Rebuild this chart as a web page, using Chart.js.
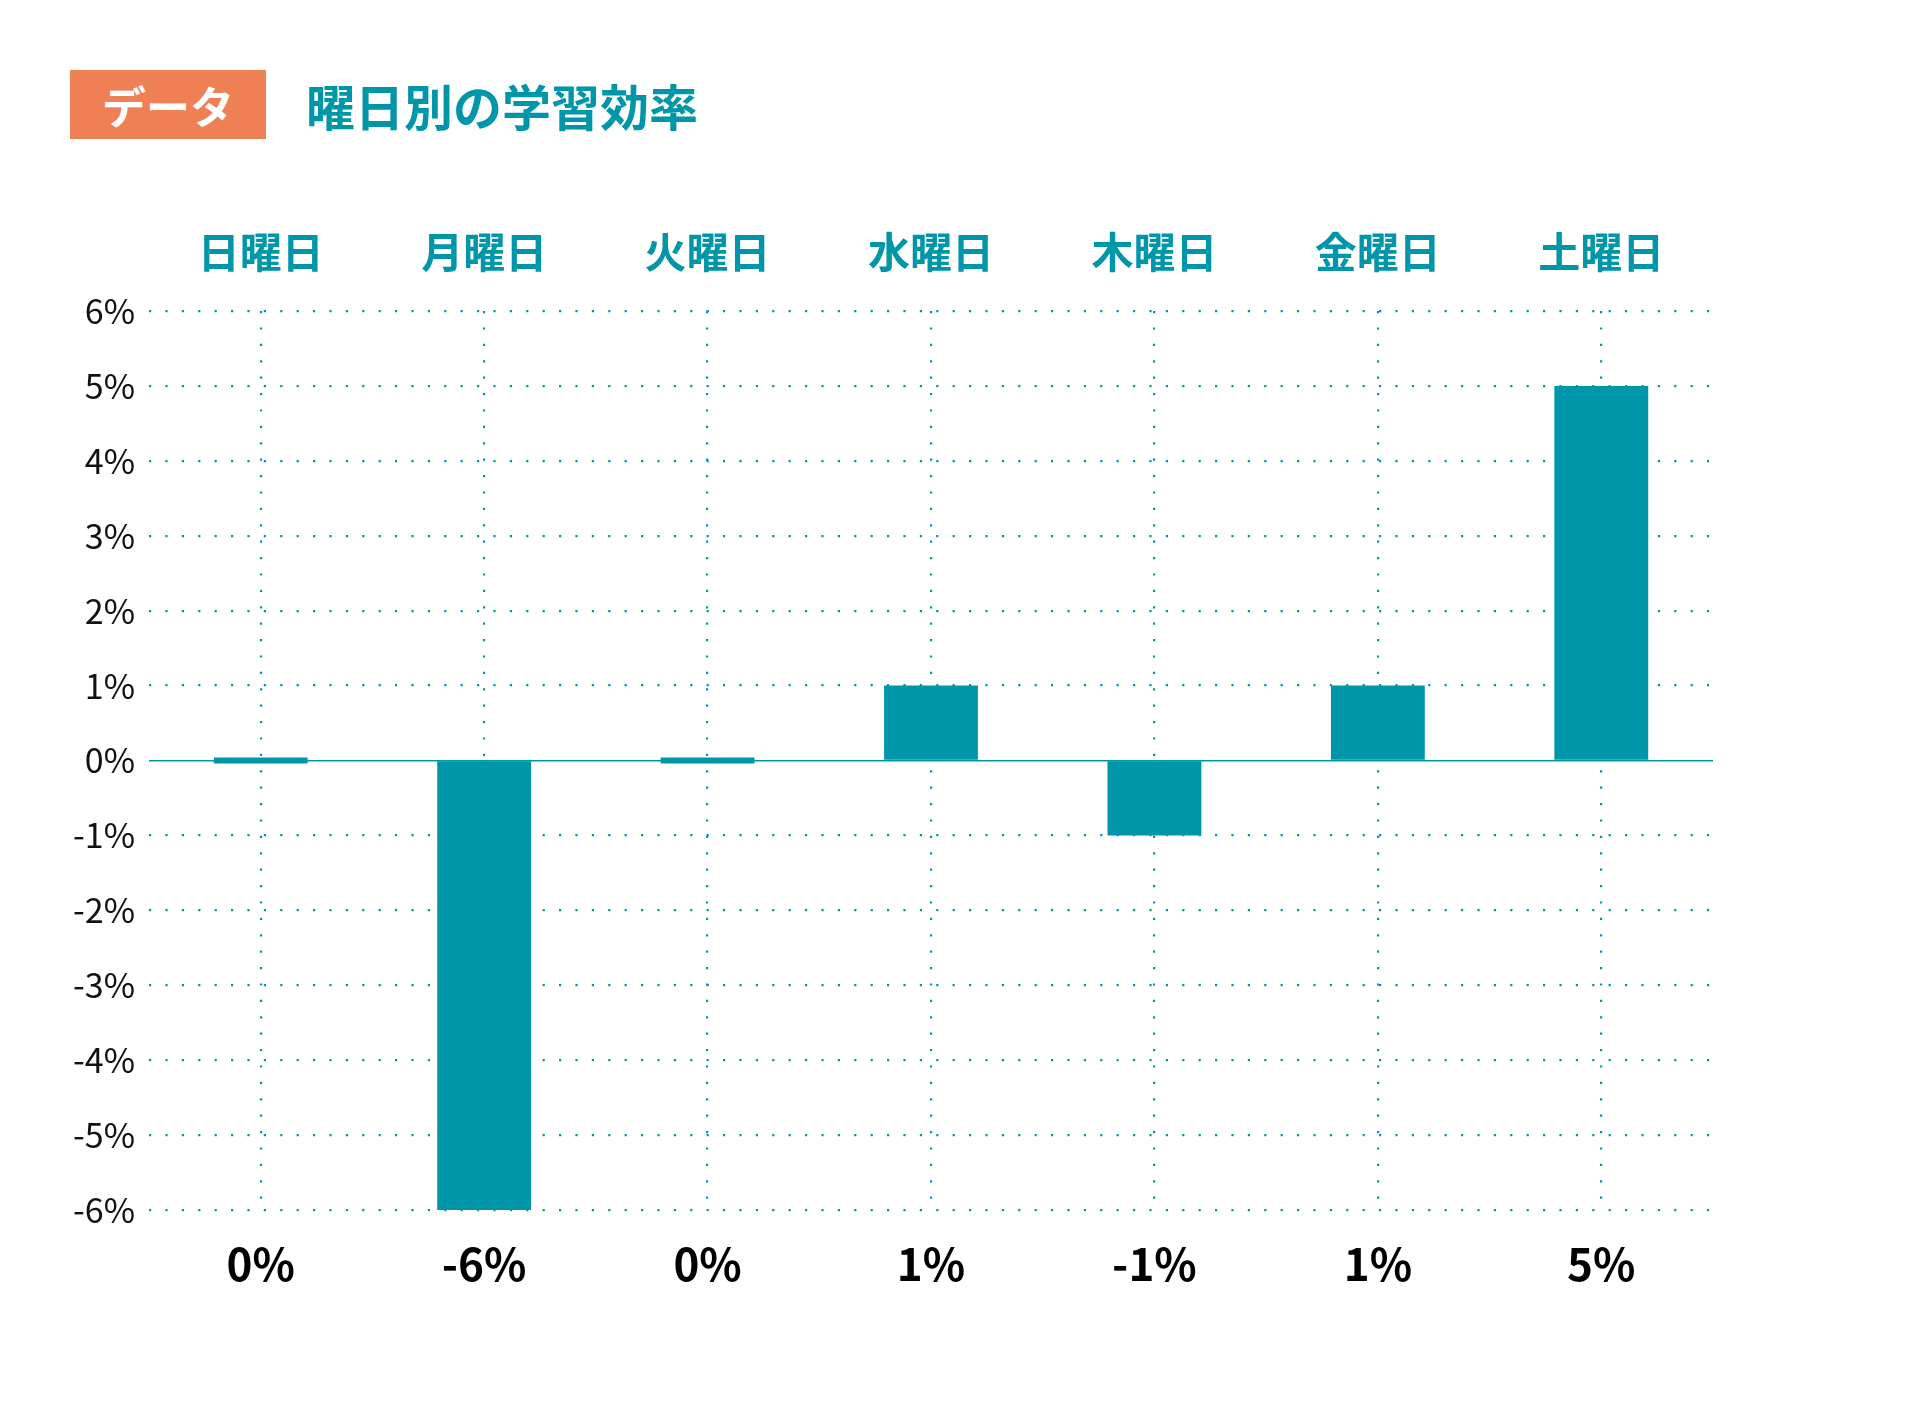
<!DOCTYPE html>
<html lang="ja">
<head>
<meta charset="utf-8">
<script src="https://cdn.jsdelivr.net/npm/chart.js@4.4.1/dist/chart.umd.min.js"></script>
<style>
  html, body { margin: 0; padding: 0; background: #fff; }
  body { width: 1920px; height: 1401px; position: relative; overflow: hidden; font-family: "Noto Sans CJK JP", sans-serif; }
  .tag {
    position: absolute; left: 70px; top: 70px; width: 196px; height: 69px;
    background: #ef8055; color: #fff; font-weight: 700; font-size: 44px;
    display: flex; align-items: center; justify-content: center;
  }
  .title {
    position: absolute; left: 306px; top: 70px; height: 69px;
    display: flex; align-items: center;
    color: #0096aa; font-weight: 700; font-size: 49px;
  }
  #chartWrap { position: absolute; left: 0; top: 0; width: 1920px; height: 1401px; }
</style>
</head>
<body>
<div class="tag">データ</div>
<div class="title">曜日別の学習効率</div>
<div id="chartWrap"><canvas id="weekChart"></canvas></div>

<script>
// ===== data =====
const days = ["日曜日", "月曜日", "火曜日", "水曜日", "木曜日", "金曜日", "土曜日"];
const efficiency = [0, -6, 0, 1, -1, 1, 5];
const yTicks = [-6, -5, -4, -3, -2, -1, 0, 1, 2, 3, 4, 5, 6];

const valueLabels = efficiency.map(function (v) { return v + "%"; });

const teal = "#0096aa";
const jpFont = "'Noto Sans CJK JP', sans-serif";
const dots = [2.2, 14.2];

const ctx = document.getElementById("weekChart");

new Chart(ctx, {
    type: "bar",

    data: {
        labels: days,
        datasets: [
            {
                label: "学習効率",
                data: efficiency,
                backgroundColor: teal,
                xAxisID: "x",
                yAxisID: "y",
                barPercentage: 0.84,
                categoryPercentage: 0.5,
                minBarLength: 6
            }
        ]
    },

    options: {
        responsive: true,
        maintainAspectRatio: false,
        animation: false,
        devicePixelRatio: 1,

        layout: {
            padding: { top: 150, right: 207, left: 0, bottom: 0 }
        },

        plugins: {
            legend: { display: false },
            tooltip: { enabled: false }
        },

        scales: {
            x: {
                position: "top",
                offset: true,
                afterFit: function (scale) { scale.height = 161; },
                grid: {
                    offset: false,
                    drawTicks: false,
                    color: teal,
                    lineWidth: 2.2
                },
                border: {
                    display: false,
                    dash: dots
                },
                ticks: {
                    padding: 34,
                    color: teal,
                    font: { family: jpFont, size: 42, weight: "bold" }
                }
            },

            x2: {
                type: "category",
                position: "bottom",
                labels: valueLabels,
                offset: true,
                afterFit: function (scale) { scale.height = 191; },
                grid: { display: false, drawTicks: false },
                border: { display: false },
                ticks: {
                    padding: 28,
                    color: "#000",
                    font: { family: jpFont, size: 44, weight: "bold" }
                }
            },

            y: {
                min: yTicks[0],
                max: yTicks[yTicks.length - 1],
                afterFit: function (scale) { scale.width = 149; },
                afterBuildTicks: function (scale) {
                    scale.ticks = yTicks.map(function (v) { return { value: v }; });
                },
                grid: {
                    drawTicks: false,
                    color: teal,
                    lineWidth: function (c) { return c.tick && c.tick.value === 0 ? 1.5 : 2.2; }
                },
                border: {
                    display: false,
                    dash: function (c) { return c.tick && c.tick.value === 0 ? [] : dots; }
                },
                ticks: {
                    padding: 14,
                    color: "#111",
                    font: { family: jpFont, size: 34 },
                    callback: function (v) { return v + "%"; }
                }
            }
        }
    }
});
</script>
</body>
</html>
